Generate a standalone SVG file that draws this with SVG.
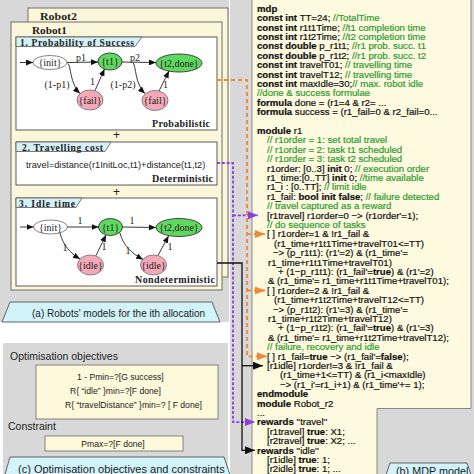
<svg xmlns="http://www.w3.org/2000/svg" width="474" height="474" viewBox="0 0 474 474">
<defs>
<style>
.pan{fill:#d8d8d8}
.rob{fill:#fcf7da;stroke:#6e6e6e;stroke-width:1}
.sub{fill:#fff;stroke:#5a5a5a;stroke-width:1}
.tab{fill:#d3f1f7;stroke:#5a5a5a;stroke-width:0.8}
.cap{fill:#d3f3fa;stroke:#555;stroke-width:0.9}
.sb{font-family:"Liberation Serif",serif;font-weight:bold;fill:#222}
.sf{font-family:"Liberation Serif",serif;font-size:10px;fill:#222;text-anchor:middle}
.nt{font-family:"Liberation Serif",serif;font-size:10px;text-anchor:middle;fill:#222}
.ss{font-family:"Liberation Sans",sans-serif;fill:#222}
.e{fill:none;stroke:#222;stroke-width:0.9;marker-end:url(#ah)}
.wn{fill:#fff;stroke:#777;stroke-width:0.9}
.gn{fill:#5fd85f;stroke:#333;stroke-width:0.9}
.pn{fill:#f5a8b8;stroke:#777;stroke-width:0.9}
.code{font-family:"Liberation Sans",sans-serif;font-size:9.6px;fill:#111;stroke:#111;stroke-width:0.2}
.k{font-weight:bold}
.c{fill:#2f9a2f;stroke:#2f9a2f}
.yb{fill:#fdf9da;stroke:#777;stroke-width:0.9}
.or{fill:none;stroke:#f0883a;stroke-width:1.8;stroke-dasharray:4 3}
.pu{fill:none;stroke:#8b3fd9;stroke-width:1.8;stroke-dasharray:3 1.8}
.bk{fill:none;stroke:#111;stroke-width:1.3}
</style>
<marker id="ah" markerUnits="userSpaceOnUse" markerWidth="7" markerHeight="6" refX="7" refY="3" orient="auto"><path d="M0,0 L7,3 L0,6 z" fill="#111"/></marker>
<marker id="ao" markerUnits="userSpaceOnUse" markerWidth="10" markerHeight="8" refX="10" refY="4" orient="auto"><path d="M0,0 L10,4 L0,8 z" fill="#f0883a"/></marker>
<marker id="ap" markerUnits="userSpaceOnUse" markerWidth="10" markerHeight="8" refX="10" refY="4" orient="auto"><path d="M0,0 L10,4 L0,8 z" fill="#8b3fd9"/></marker>
<marker id="ab" markerUnits="userSpaceOnUse" markerWidth="10" markerHeight="8" refX="10" refY="4" orient="auto"><path d="M0,0 L10,4 L0,8 z" fill="#111"/></marker>
</defs>
<rect x="0" y="0" width="474" height="474" fill="#fff"/>

<!-- panel b (background) -->
<g id="panel-b">
<rect class="pan" x="230" y="-1" width="245" height="476"/>
<path d="M252,-1 H471 V408.5 H377 V476 H252 Z" fill="#fdfadf" stroke="#888" stroke-width="1"/>
<polygon class="cap" points="390,463 467,463 472,478 385,478"/>
<text class="ss" x="396" y="475" font-size="10.8">(b) MDP model</text>
<text class="code">
<tspan x="257" y="11.7" class="k">mdp</tspan>
<tspan x="257" y="21.1"><tspan class="k">const int </tspan>TT=24; <tspan class="c">//TotalTime</tspan></tspan>
<tspan x="257" y="30.5"><tspan class="k">const int </tspan>r1t1Time; <tspan class="c">//t1 completion time</tspan></tspan>
<tspan x="257" y="39.9"><tspan class="k">const int </tspan>r1t2Time; <tspan class="c">//t2 completion time</tspan></tspan>
<tspan x="257" y="49.3"><tspan class="k">const double </tspan>p_r1t1; <tspan class="c">//r1 prob. succ. t1</tspan></tspan>
<tspan x="257" y="58.7"><tspan class="k">const double </tspan>p_r1t2; <tspan class="c">//r1 prob. succ. t2</tspan></tspan>
<tspan x="257" y="68.1"><tspan class="k">const int </tspan>travelT01; <tspan class="c">// travelling time</tspan></tspan>
<tspan x="257" y="77.5"><tspan class="k">const int </tspan>travelT12; <tspan class="c">// travelling time</tspan></tspan>
<tspan x="257" y="86.9"><tspan class="k">const int </tspan>maxIdle=30;<tspan class="c">// max. robot idle</tspan></tspan>
<tspan x="257" y="96.3" class="c">//done &amp; success formulae</tspan>
<tspan x="257" y="105.7"><tspan class="k">formula </tspan>done = (r1=4 &amp; r2= ...</tspan>
<tspan x="257" y="115.1"><tspan class="k">formula </tspan>success = (r1_fail=0 &amp; r2_fail=0...</tspan>
<tspan x="257" y="133.9"><tspan class="k">module </tspan>r1</tspan>
<tspan x="267" y="143.3" class="c">// r1order = 1: set total travel</tspan>
<tspan x="267" y="152.7" class="c">// r1order = 2: task t1 scheduled</tspan>
<tspan x="267" y="162.1" class="c">// r1order = 3: task t2 scheduled</tspan>
<tspan x="267" y="171.5">r1order: [0..3] <tspan class="k">init </tspan>0; <tspan class="c">// execution order</tspan></tspan>
<tspan x="267" y="180.9">r1_time:[0..TT] <tspan class="k">init </tspan>0; <tspan class="c">//time available</tspan></tspan>
<tspan x="267" y="190.3">r1_i : [0..TT]; <tspan class="c">// limit idle</tspan></tspan>
<tspan x="267" y="199.7">r1_fail: <tspan class="k">bool init false</tspan>; <tspan class="c">// failure detected</tspan></tspan>
<tspan x="267" y="209.1" class="c">// travel captured as a reward</tspan>
<tspan x="267" y="218.5">[r1travel] r1order=0 −&gt; (r1order'=1);</tspan>
<tspan x="267" y="227.9" class="c">// do sequence of tasks</tspan>
<tspan x="267" y="237.3">[ ] r1order=1 &amp; !r1_fail &amp;</tspan>
<tspan x="274" y="246.7">(r1_time+r1t1Time+travelT01&lt;=TT)</tspan>
<tspan x="273" y="256.1">−&gt; (p_r1t1): (r1'=2) &amp; (r1_time'=</tspan>
<tspan x="268" y="265.5">r1_time+r1t1Time+travelT01)</tspan>
<tspan x="278" y="274.9">+ (1−p_r1t1): (r1_fail'=<tspan class="k">true</tspan>) &amp; (r1'=2)</tspan>
<tspan x="268" y="284.3">&amp; (r1_time'= r1_time+r1t1Time+travelT01);</tspan>
<tspan x="267" y="293.7">[ ] r1order=2 &amp; !r1_fail &amp;</tspan>
<tspan x="274" y="303.1">(r1_time+r1t2Time+travelT12&lt;=TT)</tspan>
<tspan x="273" y="312.5">−&gt; (p_r1t2): (r1'=3) &amp; (r1_time'=</tspan>
<tspan x="268" y="321.9">r1_time+r1t2Time+travelT12)</tspan>
<tspan x="278" y="331.3">+ (1−p_r1t2): (r1_fail'=<tspan class="k">true</tspan>) &amp; (r1'=3)</tspan>
<tspan x="268" y="340.7">&amp; (r1_time'= r1_time+r1t2Time+travelT12);</tspan>
<tspan x="267" y="350.1" class="c">// failure, recovery and idle</tspan>
<tspan x="267" y="359.5">[ ] r1_fail=<tspan class="k">true</tspan> −&gt; (r1_fail'=<tspan class="k">false</tspan>);</tspan>
<tspan x="267" y="368.9">[r1idle] r1order!=3 &amp; !r1_fail &amp;</tspan>
<tspan x="280" y="378.3">(r1_time+1&lt;=TT) &amp; (r1_i&lt;maxIdle)</tspan>
<tspan x="280" y="387.7">−&gt; (r1_i'=r1_i+1) &amp; (r1_time'+= 1);</tspan>
<tspan x="257" y="397.1" class="k">endmodule</tspan>
<tspan x="257" y="406.5"><tspan class="k">module </tspan>Robot_r2</tspan>
<tspan x="257" y="415.9">...</tspan>
<tspan x="257" y="425.3"><tspan class="k">rewards </tspan>''travel''</tspan>
<tspan x="267" y="434.7">[r1travel] <tspan class="k">true</tspan>: X1;</tspan>
<tspan x="267" y="444.1">[r2travel] <tspan class="k">true</tspan>: X2; ...</tspan>
<tspan x="257" y="453.5"><tspan class="k">rewards </tspan>''idle''</tspan>
<tspan x="267" y="462.9">[r1idle] <tspan class="k">true</tspan>: 1;</tspan>
<tspan x="267" y="472.3">[r2idle] <tspan class="k">true</tspan>: 1; ...</tspan>
</text>
</g>

<!-- panel a -->
<g id="panel-a">
<rect class="pan" x="0" y="-1" width="229" height="323"/>
<rect class="rob" x="28" y="8" width="200" height="269"/>
<text class="sb" x="40" y="20" font-size="11" textLength="37" lengthAdjust="spacingAndGlyphs">Robot2</text>
<rect class="rob" x="11" y="22" width="211" height="268"/>
<text class="sb" x="32" y="34" font-size="11" textLength="35" lengthAdjust="spacingAndGlyphs">Robot1</text>
<polygon class="cap" points="10,302 212,302 220,322 2,322"/>
<text class="ss" x="32" y="317" font-size="10">(a) Robots' models for the ith allocation</text>
</g>

<g id="box-probability">
<rect class="sub" x="16" y="37" width="201" height="93"/>
<polygon class="tab" points="16,37 142,37 135,46.5 16,46.5"/>
<text class="sb" x="20" y="45.5" font-size="9.5" textLength="114" lengthAdjust="spacing">1. Probability of Success</text>
<text class="sb" x="210" y="127" font-size="10" text-anchor="end" textLength="58" lengthAdjust="spacing">Probabilistic</text>
</g>
<text class="ss" x="116.5" y="139" font-size="12" text-anchor="middle">+</text>
<g id="box-travel">
<rect class="sub" x="16" y="142" width="201" height="43"/>
<polygon class="tab" points="16,142 111,142 105,151.5 16,151.5"/>
<text class="sb" x="22" y="150.5" font-size="9.5" textLength="81" lengthAdjust="spacing">2. Travelling cost</text>
<text class="ss" x="26" y="167.5" font-size="9.3">travel=distance(r1InitLoc,t1)+distance(t1,t2)</text>
<text class="sb" x="213" y="182" font-size="10" text-anchor="end" textLength="61" lengthAdjust="spacing">Deterministic</text>
</g>
<text class="ss" x="116.5" y="196" font-size="12" text-anchor="middle">+</text>
<g id="box-idle">
<rect class="sub" x="16" y="198" width="201" height="88"/>
<polygon class="tab" points="16,198 82,198 76,207.5 16,207.5"/>
<text class="sb" x="19" y="206.5" font-size="9.5" textLength="56" lengthAdjust="spacing">3. Idle time</text>
<text class="sb" x="215" y="283" font-size="10" text-anchor="end" textLength="80" lengthAdjust="spacing">Nondeterministic</text>
</g>

<!-- panel c -->
<g id="panel-c">
<rect class="pan" x="3" y="343" width="225" height="132"/>
<text class="ss" x="10" y="359.5" font-size="10.5">Optimisation objectives</text>
<rect class="yb" x="36" y="365" width="182" height="54"/>
<text class="ss" x="77" y="380" font-size="8.6">1 - Pmin=?[G success]</text>
<text class="ss" x="70" y="394" font-size="8.6">R{ “idle” }min=?[F done]</text>
<text class="ss" x="65" y="408" font-size="8.6">R{ “travelDistance” }min=? [ F done]</text>
<text class="ss" x="8" y="429.5" font-size="10.5">Constraint</text>
<rect class="yb" x="45" y="436" width="138" height="15"/>
<text class="ss" x="113" y="447" font-size="8.6" text-anchor="middle">Pmax=?[F done]</text>
<polygon class="cap" points="10,457 224,457 231,478 4,478"/>
<text class="ss" x="18" y="473" font-size="11">(c) Optimisation objectives and constraints</text>
</g>

<!-- nodes diagram 1 -->
<g id="p-init"><ellipse class="wn" cx="50" cy="62.5" rx="17" ry="7"/><text class="nt" x="50" y="66">{init}</text></g>
<g id="p-t1"><ellipse class="gn" cx="110" cy="61.5" rx="12" ry="8.5"/><text class="nt" x="110" y="65">{t1}</text></g>
<g id="p-t2done"><ellipse class="gn" cx="179" cy="63" rx="23" ry="9"/><text class="nt" x="179" y="66.5">{t2,done}</text></g>
<g id="p-fail1"><ellipse class="pn" cx="90" cy="100" rx="13" ry="10"/><text class="nt" x="90" y="103.5" font-size="9.5">{fail}</text></g>
<g id="p-fail2"><ellipse class="pn" cx="155" cy="100.5" rx="13" ry="10"/><text class="nt" x="155" y="104" font-size="9.5">{fail}</text></g>

<!-- nodes diagram 3 -->
<g id="i-init"><ellipse class="wn" cx="50.5" cy="227" rx="17" ry="7"/><text class="nt" x="50.5" y="230.5">{init}</text></g>
<g id="i-t1"><ellipse class="gn" cx="110.5" cy="227" rx="12" ry="8.5"/><text class="nt" x="110.5" y="230.5">{t1}</text></g>
<g id="i-t2done"><ellipse class="gn" cx="179" cy="227.5" rx="23" ry="9"/><text class="nt" x="179" y="231">{t2,done}</text></g>
<g id="i-idle1"><ellipse class="pn" cx="90.5" cy="265" rx="13" ry="10"/><text class="nt" x="90.5" y="268.5" font-size="9.5">{idle}</text></g>
<g id="i-idle2"><ellipse class="pn" cx="153.5" cy="265" rx="13" ry="10"/><text class="nt" x="153.5" y="268.5" font-size="9.5">{idle}</text></g>

<g id="connectors">
<path class="e" d="M20,62.5 L33,62.5"/>
<path class="e" d="M67,62.5 L98,62"/>
<path class="e" d="M68,63.5 C71,66 70,84 80,93.5"/>
<path class="e" d="M95,90.5 L104.5,69"/>
<path class="e" d="M122,62 L156,62.5"/>
<path class="e" d="M133,62.5 C136,66 135,84 145,93.5"/>
<path class="e" d="M159,91 L169,71"/>
<path class="e" d="M20,227 L33.5,227"/>
<path class="e" d="M67.5,227 L98.5,227"/>
<path class="e" d="M60,233 C63,245 70,253 80,259"/>
<path class="e" d="M96,255.5 L106,235"/>
<path class="e" d="M122.5,227 L156,227.5"/>
<path class="e" d="M120,233 C123,245 131,253 143,259.5"/>
<path class="e" d="M158,255.5 L168.5,236"/>
<path class="or" d="M217,80 H247 V356.3 H267" marker-end="url(#ao)"/>
<path class="or" d="M247,234.1 H265" marker-end="url(#ao)"/>
<path class="or" d="M247,290.5 H265" marker-end="url(#ao)"/>
<path class="pu" d="M217,163 H233 V422.1 H255" marker-end="url(#ap)"/>
<path class="pu" d="M233,215.3 H258" marker-end="url(#ap)"/>
<path class="bk" d="M217,263 H242 V450.3 H255" marker-end="url(#ab)"/>
<path class="bk" d="M242,365.7 H263" marker-end="url(#ab)"/>
</g>

<!-- edge labels -->
<g id="edge-labels">
<text class="sf" x="81" y="60.5">p1</text>
<text class="sf" x="57" y="87.5">(1-p1)</text>
<text class="sf" x="92.5" y="85">1</text>
<text class="sf" x="135" y="60.5">p2</text>
<text class="sf" x="123" y="87.5">(1-p2)</text>
<text class="sf" x="165.5" y="88">1</text>
<text class="sf" x="80" y="224">1</text>
<text class="sf" x="132" y="224">1</text>
<text class="sf" x="65" y="251">1</text>
<text class="sf" x="104" y="250">1</text>
<text class="sf" x="128" y="254">1</text>
<text class="sf" x="170" y="250">1</text>
</g>
</svg>
